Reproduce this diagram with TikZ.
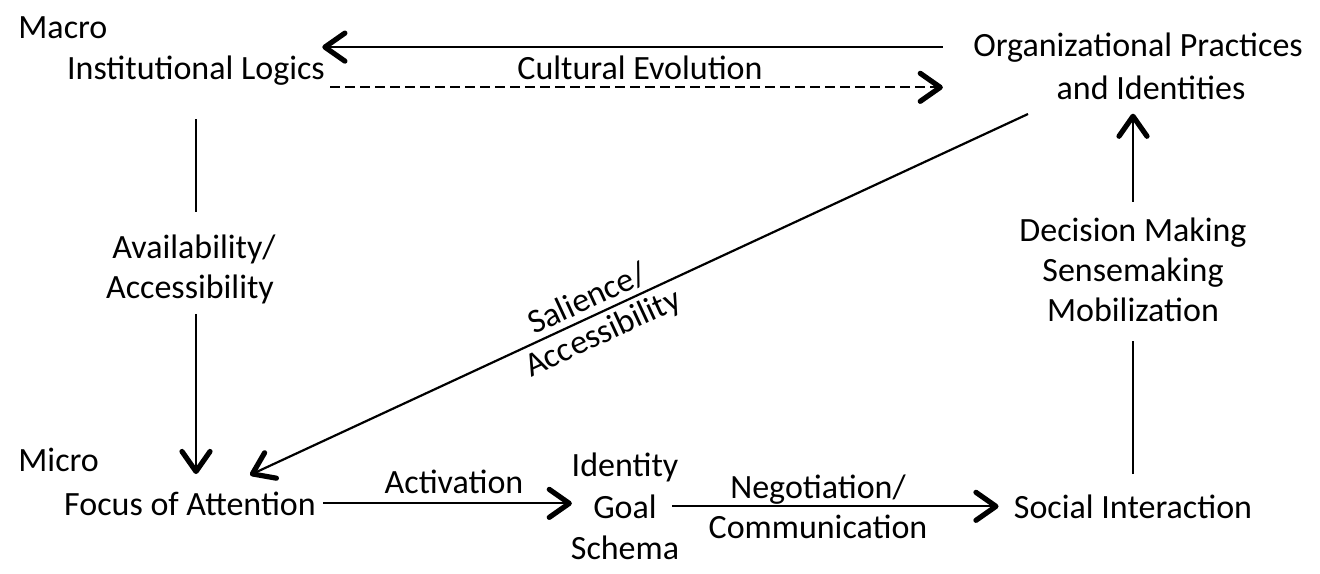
\documentclass[tikz,border=0pt]{standalone}
\usepackage{fontspec}
\setmainfont{Carlito}
\usetikzlibrary{arrows.meta,calc}
\begin{document}
\begin{tikzpicture}[x=0.5pt,y=-0.5pt,
  lbl/.style={inner sep=0pt, font=\fontsize{17}{21}\selectfont, anchor=base},
  conn/.style={line width=1.1pt, -{Straight Barb[length=10pt,width=14pt,line width=2.6pt,round]}},
  plainline/.style={line width=1.1pt}]
\useasboundingbox (0,0) rectangle (1320,573);
% texts
\node[lbl, anchor=base west] (macro) at (18,39) {Macro};
\node[lbl] (inst) at (196,79) {Institutional Logics};
\node[lbl] (cult) at (640,79) {Cultural Evolution};
\node[lbl] (org1) at (1138,56) {Organizational Practices};
\node[lbl] (org2) at (1151,99) {and Identities};
\node[lbl] (avail1) at (194,258) {Availability/};
\node[lbl] (avail2) at (190,298) {Accessibility};
\node[lbl] (dec1) at (1133,241) {Decision Making};
\node[lbl] (dec2) at (1133,281) {Sensemaking};
\node[lbl] (dec3) at (1133,321) {Mobilization};
\node[lbl, anchor=base west] (micro) at (18,471) {Micro};
\node[lbl] (focus) at (190,515) {Focus of Attention};
\node[lbl] (act) at (454,493) {Activation};
\node[lbl] (ident) at (625,476) {Identity};
\node[lbl] (goal) at (625,518) {Goal};
\node[lbl] (schema) at (625,559) {Schema};
\node[lbl] (nego) at (818,498) {Negotiation/};
\node[lbl] (comm) at (818,538) {Communication};
\node[lbl] (social) at (1133,518) {Social Interaction};
\coordinate (diagS) at (1028,114);
\coordinate (diagE) at (250,475);
% connectors
\draw[conn, shorten <=15pt, shorten >=-1.5pt] (org1.west) -- (inst.east |- org1.west);
\draw[conn, dashed, dash pattern=on 5pt off 2.5pt, shorten <=2.5pt, shorten >=15pt] (inst.east |- org2.west) -- (org1.west |- org2.west);
\draw[plainline, shorten <=17pt, shorten >=11pt] (inst.south) -- (inst.south |- avail1.north);
\draw[conn, shorten <=5pt, shorten >=8.5pt] (avail2.south -| inst.south) -- (inst.south |- focus.north);
\draw[plainline, shorten <=10pt, shorten >=9.5pt] (social.north) -- (social.north |- dec3.south);
\draw[conn, shorten <=7.5pt, shorten >=7pt] (dec1.north) -- (dec1.north |- org2.south);
\draw[conn] (diagS) -- node[lbl, pos=0.557, sloped, anchor=south, yshift=2.5pt] (sal1) {Salience/}
  node[lbl, pos=0.557, sloped, anchor=north, yshift=-2.5pt] (sal2) {Accessibility} (diagE);
\draw[conn, shorten <=3.5pt, shorten >=10.5pt] (focus.east) -- (focus.east -| goal.west);
\draw[conn, shorten <=7.5pt, shorten >=7.5pt] (goal.east) -- (goal.east -| social.west);
\end{tikzpicture}
\end{document}
